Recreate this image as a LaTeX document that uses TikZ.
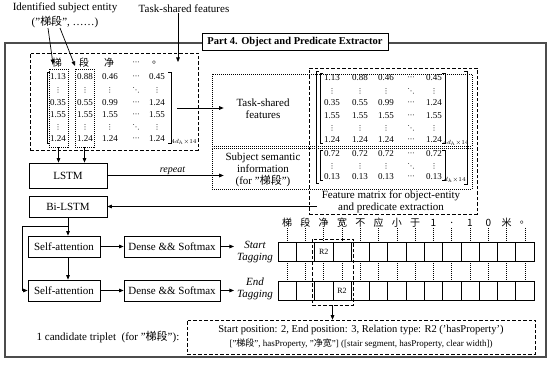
\documentclass[tikz,border=0pt]{standalone}
\usepackage{fontspec}
\setmainfont{Liberation Serif}
\newfontfamily\cjk{Noto Sans CJK SC}
\newfontfamily\djv{DejaVu Sans}
\usetikzlibrary{arrows.meta}
\newcommand{\zhf}[1]{{\cjk #1}}
\newcommand{\fsz}[2]{\fontsize{#1}{#2}\selectfont}
\newcommand{\myvd}{{\djv\fontsize{7}{8}\selectfont ⋮}}
\newcommand{\mydd}{{\djv\fontsize{7}{8}\selectfont ⋱}}
\newcommand{\mycd}{{\djv\fontsize{7}{8}\selectfont ⋯}}
\begin{document}
\begin{tikzpicture}[x=1pt,y=-1pt,
  arr/.style={-{Triangle[length=4.5pt,width=3.6pt]}, line width=0.7pt},
  blk/.style={draw, line width=0.8pt, inner sep=0pt, font=\fsz{11}{12}},
  cell/.style={draw, line width=0.6pt, minimum width=18.2857pt, minimum height=19pt, inner sep=0pt},
  num/.style={font=\fsz{9}{10}, inner sep=0pt},
  lab/.style={font=\fsz{11}{12}, inner sep=0pt, align=center},
  dsh/.style={draw, line width=0.7pt, dash pattern=on 3.5pt off 2pt, inner sep=0pt},
  dtt/.style={draw, line width=0.7pt, dash pattern=on 1pt off 1pt, inner sep=0pt},
  brk/.style={line width=0.8pt},
  sub/.style={font=\fsz{6}{7}, inner sep=0pt}]
\useasboundingbox (0,0) rectangle (550,366);
% outer frame
\draw[line width=1.3pt, black!70] (5,43) rectangle (546,357);
\node[draw, fill=white, line width=0.8pt, font=\bfseries\fsz{10.5}{12}, minimum width=186pt, minimum height=17pt, inner sep=0pt] (title) at (295,41.5) {Part 4. Object and Predicate Extractor};
% top labels
\node[lab] (ident) at (65,8) {Identified subject entity};
\node[lab] (identb) at (65,22) {("\zhf{梯段}", ……)};
\node[lab] (tsf) at (184,9) {Task-shared features};
\coordinate (tsftip) at (178,62);
\draw[arr] (tsftip |- tsf.south) -- (tsftip);
% left matrix box
\node[dsh, minimum width=168pt, minimum height=97pt] (lm) at (114,101.5) {};
\foreach \ch [count=\k from 0] in {梯,段,净,\mycd,。}{
  \pgfmathsetmacro\xx{{57,84,109,136,157}[\k]}
  \node[font=\fsz{10}{11}, inner sep=0pt] (lh\k) at (\xx,63) {\cjk \ch};
}
\node[dtt, minimum width=19pt, minimum height=78pt] (col1) at (58.5,108) {};
\node[dtt, minimum width=19pt, minimum height=78pt] (col2) at (84.5,108) {};
\foreach \yy/\a/\b/\c/\d/\e [count=\r] in {
  77/1.13/0.88/0.46/\mycd/0.45,
  90/\myvd/\myvd/\myvd/\mydd/\myvd,
  103/0.35/0.55/0.99/\mycd/1.24,
  115/1.55/1.55/1.55/\mycd/1.55,
  127/\myvd/\myvd/\myvd/\mydd/\myvd,
  139/1.24/1.24/1.24/\mycd/1.24}{
  \node[num] (lm\r a) at (58,\yy) {\a};
  \node[num] (lm\r b) at (85,\yy) {\b};
  \node[num] (lm\r c) at (110,\yy) {\c};
  \node[num] (lm\r d) at (136,\yy) {\d};
  \node[num] (lm\r e) at (157,\yy) {\e};
}
\draw[brk] (50,72) -- (47,72) -- (47,143) -- (50,143);
\draw[brk] (168,72) -- (171,72) -- (171,143) -- (168,143);
\node[sub] (lmsub) at (184,142) {$4d_h{\times}14$};
% subject arrows
\coordinate (s1tip) at (53,64);
\coordinate (s2tip) at (75,66);
\draw[arr] ([xshift=-17pt]identb.south) -- (s1tip);
\draw[arr] ([xshift=-5pt]identb.south) -- (s2tip);
% left column blocks
\node[blk, minimum width=78pt, minimum height=25pt] (lstm) at (68,175.5) {LSTM};
\node[blk, minimum width=78pt, minimum height=21pt] (bilstm) at (68,206.5) {Bi-LSTM};
\node[blk, minimum width=72pt, minimum height=21pt] (sa1) at (64,246.5) {Self-attention};
\node[blk, minimum width=72pt, minimum height=21pt] (sa2) at (64,290.5) {Self-attention};
\node[blk, minimum width=96pt, minimum height=21pt] (ds1) at (172,246.5) {Dense \&\& Softmax};
\node[blk, minimum width=96pt, minimum height=21pt] (ds2) at (172,290.5) {Dense \&\& Softmax};
\node[lab, font=\itshape\fsz{11}{12}] (stt) at (255,252) {Start\\Tagging};
\node[lab, font=\itshape\fsz{11}{12}] (ett) at (255,289) {End\\Tagging};
\draw[arr] (col1.south) -- (col1.south |- lstm.north);
\draw[arr] (col2.south) -- (col2.south |- lstm.north);
\draw[arr] (bilstm.south) -- (bilstm.south |- sa1.north);
\coordinate (jn) at (68,226);
\coordinate (lft) at (22,226);
\draw[arr] (jn) -- (lft) |- (sa2.west);
\draw[arr] (sa1.south -| jn) -- (sa2.north -| jn);
\draw[arr] (sa1.east) -- (ds1.west);
\draw[arr] (sa2.east) -- (ds2.west);
\draw[arr] (ds1.east) -- ([xshift=-3pt]ds1.east -| stt.west);
\draw[arr] (ds2.east) -- ([xshift=-3pt]ds2.east -| stt.west);
% right section boxes
\node[dtt, minimum width=260pt, minimum height=72pt] (ts) at (342,110) {};
\node[dtt, minimum width=260pt, minimum height=41pt] (ss) at (342,168.5) {};
\node[dsh, minimum width=168pt, minimum height=146pt] (fm) at (393,141) {};
\node[lab] (tstxt) at (263,109) {Task-shared\\features};
\node[lab] (sstxt) at (263,169.5) {Subject semantic\\information\\(for "\zhf{梯段}")};
\node[lab] (fmtxt) at (391,201.5) {Feature matrix for object-entity\\and predicate extraction};
\coordinate (tsin) at ([xshift=12pt]ts.west);
\coordinate (ssin) at ([xshift=12pt]ss.west);
\coordinate (lmout) at (177,108);
\draw[arr] (lmout) -- (tsin |- lmout);
\draw[arr] (lstm.east) -- node[pos=0.56, above=1pt, font=\itshape\fsz{10}{11}, inner sep=0pt] (rep) {repeat} (ssin |- lstm.east);
\coordinate (fmout) at (317,206.5);
\draw[arr] (fmout) -- (bilstm.east);
% right matrices
\foreach \yy/\a/\b/\c/\d/\e [count=\r] in {
  78/1.13/0.88/0.46/\mycd/0.45,
  91/\myvd/\myvd/\myvd/\mydd/\myvd,
  103/0.35/0.55/0.99/\mycd/1.24,
  116/1.55/1.55/1.55/\mycd/1.55,
  128/\myvd/\myvd/\myvd/\mydd/\myvd,
  140/1.24/1.24/1.24/\mycd/1.24,
  154/0.72/0.72/0.72/\mycd/0.72,
  166/\myvd/\myvd/\myvd/\mydd/\myvd,
  177/0.13/0.13/0.13/\mycd/0.13}{
  \node[num] (rm\r a) at (332,\yy) {\a};
  \node[num] (rm\r b) at (360,\yy) {\b};
  \node[num] (rm\r c) at (386,\yy) {\c};
  \node[num] (rm\r d) at (411,\yy) {\d};
  \node[num] (rm\r e) at (434,\yy) {\e};
}
\draw[brk] (319,71) -- (316,71) -- (316,183) -- (319,183);
\draw[brk] (323,73) -- (320,73) -- (320,143) -- (323,143);
\draw[brk] (323,150) -- (320,150) -- (320,180) -- (323,180);
\draw[brk] (442,73) -- (445,73) -- (445,143) -- (442,143);
\draw[brk] (442,150) -- (445,150) -- (445,180) -- (442,180);
\draw[brk] (464,71) -- (467,71) -- (467,184) -- (464,184);
\node[sub] (rmsub1) at (456,143) {$4d_h{\times}14$};
\node[sub] (rmsub2) at (455,180) {$d_h{\times}14$};
% tagging rows
\foreach \ch [count=\k from 0] in {梯,段,净,宽,不,应,小,于,1,.,1,0,米,。}{
  \pgfmathsetmacro\xx{278+18.2857*(\k+0.5)}
  \node[font=\fsz{10}{11}, inner sep=0pt, minimum height=9pt] (c\k) at (\xx,223) {\cjk \ch};
  \node[cell] (s\k) at (\xx,251.5) {};
  \node[cell] (e\k) at (\xx,291) {};
  \draw[line width=0.6pt, dash pattern=on 1pt off 1pt] (c\k.south) -- (s\k.north);
  \draw[line width=0.6pt, dash pattern=on 1pt off 1pt] (s\k.south) -- (e\k.north);
}
\node[font=\fsz{8}{9}, inner sep=0pt] (r2a) at (s2) {R2};
\node[font=\fsz{8}{9}, inner sep=0pt] (r2b) at (e3) {R2};
\node[dsh, minimum width=41pt, minimum height=66pt] (r2box) at (332.5,272) {};
% triplet
\node[dsh, minimum width=348pt, minimum height=34pt] (trip) at (361,337) {};
\node[font=\fsz{10.5}{12}, inner sep=0pt] (tl1) at (361,330) {Start position: 2, End position: 3, Relation type: R2 ('hasProperty')};
\node[font=\fsz{9}{10}, inner sep=0pt] (tl2) at (361,344) {["\zhf{梯段}", hasProperty, "\zhf{净宽}"] ([stair segment, hasProperty, clear width])};
\node[lab] (cand) at (108,337) {1 candidate triplet\ \ (for "\zhf{梯段}"):};
\draw[arr] (r2box.south) -- (r2box.south |- trip.north);
\end{tikzpicture}
\end{document}
